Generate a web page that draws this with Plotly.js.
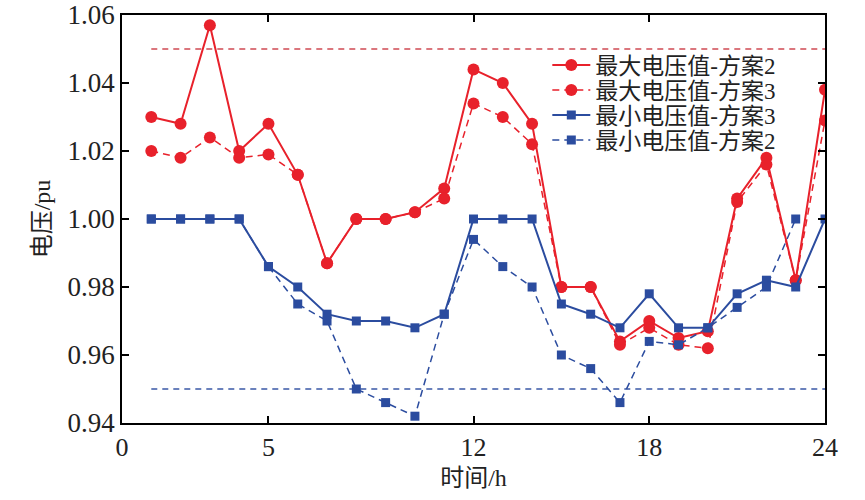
<!DOCTYPE html>
<html>
<head>
<meta charset="utf-8">
<script src="https://cdn.plot.ly/plotly-3.0.1.min.js"></script>
<style>
  body { margin: 0; background: #fff; }
  #chart { width: 865px; height: 500px; }
</style>
</head>
<body>
<div id="chart"></div>
<script>
var hours = [1,2,3,4,5,6,7,8,9,10,11,12,13,14,15,16,17,18,19,20,21,22,23,24];

var max_plan2 = [1.030,1.028,1.057,1.020,1.028,1.013,0.987,1.000,1.000,1.002,1.009,1.044,
                 1.040,1.028,0.980,0.980,0.964,0.970,0.965,0.967,1.006,1.018,0.982,1.038];
var max_plan3 = [1.020,1.018,1.024,1.018,1.019,1.013,0.987,1.000,1.000,1.002,1.006,1.034,
                 1.030,1.022,0.980,0.980,0.963,0.968,0.963,0.962,1.005,1.016,0.982,1.029];
var min_plan3 = [1.000,1.000,1.000,1.000,0.986,0.980,0.972,0.970,0.970,0.968,0.972,1.000,
                 1.000,1.000,0.975,0.972,0.968,0.978,0.968,0.968,0.978,0.982,0.980,1.000];
// last hour has no point for this series
var min_plan2 = [1.000,1.000,1.000,1.000,0.986,0.975,0.970,0.950,0.946,0.942,0.972,0.994,
                 0.986,0.980,0.960,0.956,0.946,0.964,0.963,0.968,0.974,0.980,1.000,null];

var upper_limit = 1.05;
var lower_limit = 0.95;

var series_names = ['最大电压值-方案2', '最大电压值-方案3', '最小电压值-方案3', '最小电压值-方案2'];
var x_ticks = [0, 5, 12, 18, 24];

var red = '#e8212b';
var blue = '#2b4c9f';
var serif = 'Liberation Serif, Noto Sans CJK SC, serif';

// one small legend per row so the rows sit as close as in the figure
function legendRow(y){
	return {
		x: 0.605,
		y: y,
		xanchor: 'left',
		yanchor: 'middle',
		bgcolor: 'rgba(0,0,0,0)',
		font: { family: serif, size: 23, color: '#222' },
		itemwidth: 38
	};
}

function plotVoltage(){

	var data = [];

	data.push({
		x: hours,
		y: hours.map(function(){ return upper_limit; }),
		type: 'scatter',
		mode: 'lines',
		showlegend: false,
		hoverinfo: 'skip',
		line: { color: '#cf4a53', width: 1.5, dash: '6px,5px' }
	});

	data.push({
		x: hours,
		y: hours.map(function(){ return lower_limit; }),
		type: 'scatter',
		mode: 'lines',
		showlegend: false,
		hoverinfo: 'skip',
		line: { color: '#3a58a6', width: 1.5, dash: '6px,5px' }
	});

	data.push({
		x: hours, y: max_plan2,
		type: 'scatter', mode: 'lines+markers',
		name: series_names[0],
		legend: 'legend',
		line: { color: red, width: 2 },
		marker: { color: red, symbol: 'circle', size: 12 }
	});

	data.push({
		x: hours, y: max_plan3,
		type: 'scatter', mode: 'lines+markers',
		name: series_names[1],
		legend: 'legend2',
		line: { color: red, width: 1.5, dash: '7px,5px' },
		marker: { color: red, symbol: 'circle', size: 12 }
	});

	data.push({
		x: hours, y: min_plan3,
		type: 'scatter', mode: 'lines+markers',
		name: series_names[2],
		legend: 'legend3',
		line: { color: blue, width: 2 },
		marker: { color: blue, symbol: 'square', size: 9 }
	});

	data.push({
		x: hours, y: min_plan2,
		type: 'scatter', mode: 'lines+markers',
		name: series_names[3],
		legend: 'legend4',
		connectgaps: false,
		line: { color: blue, width: 1.5, dash: '7px,5px' },
		marker: { color: blue, symbol: 'square', size: 9 }
	});

	var layout = {
		width: 865,
		height: 500,
		margin: { l: 122, r: 40, t: 15, b: 77, pad: 0 },
		paper_bgcolor: '#fff',
		plot_bgcolor: '#fff',
		font: { family: serif, size: 25, color: '#222' },
		xaxis: {
			range: [0, 24],
			tickmode: 'array',
			tickvals: x_ticks,
			ticks: 'inside',
			ticklen: 7,
			tickwidth: 1.5,
			tickcolor: '#000',
			showline: true,
			linecolor: '#000',
			linewidth: 1.5,
			mirror: 'ticks',
			showgrid: false,
			zeroline: false,
			tickfont: { family: serif, size: 26, color: '#222' },
			title: { text: '时间/h', font: { family: serif, size: 24, color: '#222' }, standoff: 8 }
		},
		yaxis: {
			range: [0.94, 1.06],
			dtick: 0.02,
			tick0: 0.94,
			tickformat: '.2f',
			ticks: 'inside',
			ticklen: 7,
			tickwidth: 1.5,
			tickcolor: '#000',
			showline: true,
			linecolor: '#000',
			linewidth: 1.5,
			mirror: 'ticks',
			showgrid: false,
			zeroline: false,
			tickfont: { family: serif, size: 27, color: '#222' },
			title: { text: '电压/pu', font: { family: serif, size: 24, color: '#222' }, standoff: 10 }
		},
		legend: legendRow(0.8775),
		legend2: legendRow(0.8162),
		legend3: legendRow(0.7549),
		legend4: legendRow(0.6936),
		showlegend: true
	};

	var config = { responsive: false, displayModeBar: false };

	Plotly.newPlot('chart', data, layout, config);
}

plotVoltage();
</script>
</body>
</html>
